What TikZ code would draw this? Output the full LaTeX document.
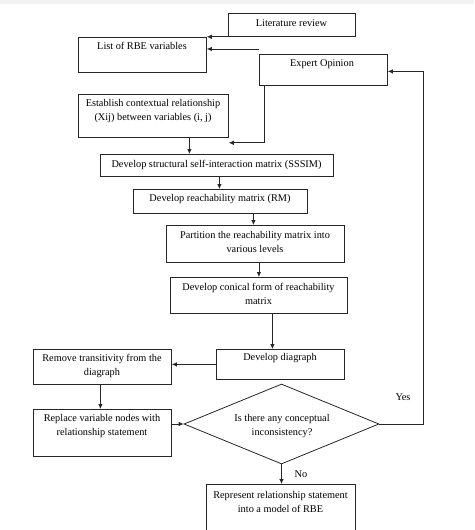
\documentclass[tikz,border=0pt]{standalone}
\usepackage{fontspec}
\setmainfont{Liberation Serif}
\usetikzlibrary{shapes.geometric,arrows.meta}
\begin{document}
\begin{tikzpicture}[x=1pt,y=-1pt,
  box/.style={draw=black!85, line width=0.8pt, anchor=north west, inner sep=0pt},
  lbl/.style={font=\fontsize{10.3}{14}\selectfont, align=center, inner sep=0pt},
  arr/.style={draw=black!85, line width=0.8pt, -{Latex[length=5pt,width=4.5pt]}},
  ln/.style={draw=black!85, line width=0.8pt}]
\useasboundingbox (0,0) rectangle (474,530);
\clip (0,0) rectangle (474,530);
\fill[gray!10] (0,0) rectangle (474,4);
% boxes
\node[box, minimum width=127pt, minimum height=23pt] (lit) at (228,13) {};
\node[box, minimum width=128pt, minimum height=35pt] (list) at (78,37) {};
\node[box, minimum width=128pt, minimum height=31pt] (exp) at (259,54) {};
\node[box, minimum width=150pt, minimum height=43pt] (est) at (78,94) {};
\node[box, minimum width=233pt, minimum height=22pt] (sss) at (100,154) {};
\node[box, minimum width=174pt, minimum height=24pt] (rm) at (133,189) {};
\node[box, minimum width=178pt, minimum height=37pt] (part) at (166,225) {};
\node[box, minimum width=177pt, minimum height=36pt] (con) at (170,277) {};
\node[box, minimum width=128pt, minimum height=30pt] (dia) at (216,349) {};
\node[box, minimum width=138pt, minimum height=35pt] (rem) at (33,349) {};
\node[box, minimum width=138pt, minimum height=47pt] (rep) at (33,409) {};
\node[draw=black!85, line width=0.8pt, diamond, inner sep=0pt, minimum width=195pt, minimum height=80pt] (dmd) at (281.5,424) {};
\node[box, minimum width=149pt, minimum height=70pt] (out) at (206,484) {};
% texts
\node[lbl] (litT) at (291.5,23) {Literature review};
\node[lbl] (listT) at (142,46) {List of RBE variables};
\node[lbl] (expT) at (322,64.5) {Expert Opinion};
\node[lbl] (estT) at (153,111) {Establish contextual relationship\\(Xij) between variables (i, j)};
\node[lbl] (sssT) at (216.5,164.5) {Develop structural self-interaction matrix (SSSIM)};
\node[lbl] (rmT) at (220,199.5) {Develop reachability matrix (RM)};
\node[lbl] (partT) at (255,242) {Partition the reachability matrix into\\various levels};
\node[lbl] (conT) at (258.5,294) {Develop conical form of reachability\\matrix};
\node[lbl] (diaT) at (280,358.5) {Develop diagraph};
\node[lbl] (remT) at (102,365.5) {Remove transitivity from the\\diagraph};
\node[lbl] (repT) at (102,426.5) {Replace variable nodes with\\relationship statement};
\node[lbl] (dmdT) at (282,426.5) {Is there any conceptual\\inconsistency?};
\node[lbl] (outT) at (280.5,501.5) {Represent relationship statement\\into a model of RBE};
\node[lbl] (yes) at (403,397.5) {Yes};
\node[lbl] (no) at (301,474.5) {No};
% connectors
\draw[arr] (lit.south west) -- (lit.south west -| list.east);
\draw[arr] ([yshift=5pt]exp.north west) -- ([yshift=5pt]exp.north west -| list.east);
\draw[arr] ([xshift=5pt]exp.south west) |- ([yshift=-5pt]est.south east);
\draw[arr] ([xshift=36pt]est.south) -- ([xshift=36pt]est.south |- sss.north);
\draw[arr] ([xshift=-1pt]rm.north |- sss.south) -- ([xshift=-1pt]rm.north);
\draw[arr] ([xshift=-2pt]part.north |- rm.south) -- ([xshift=-2pt]part.north);
\draw[arr] (con.north |- part.south) -- (con.north);
\draw[arr] ([xshift=-8pt]dia.north |- con.south) -- ([xshift=-8pt]dia.north);
\draw[arr] (dia.west) -- (dia.west -| rem.east);
\draw[arr] ([xshift=-2pt]rem.south) -- ([xshift=-2pt]rem.south |- rep.north);
\draw[arr] (rep.east |- dmd.west) -- (dmd.west);
\coordinate (yc) at ([xshift=44pt]dmd.east);
\draw[arr] (dmd.east) -- (yc) |- ([yshift=-1.5pt]exp.east);
\draw[arr] (dmd.south) -- (dmd.south |- out.north);
\end{tikzpicture}
\end{document}
